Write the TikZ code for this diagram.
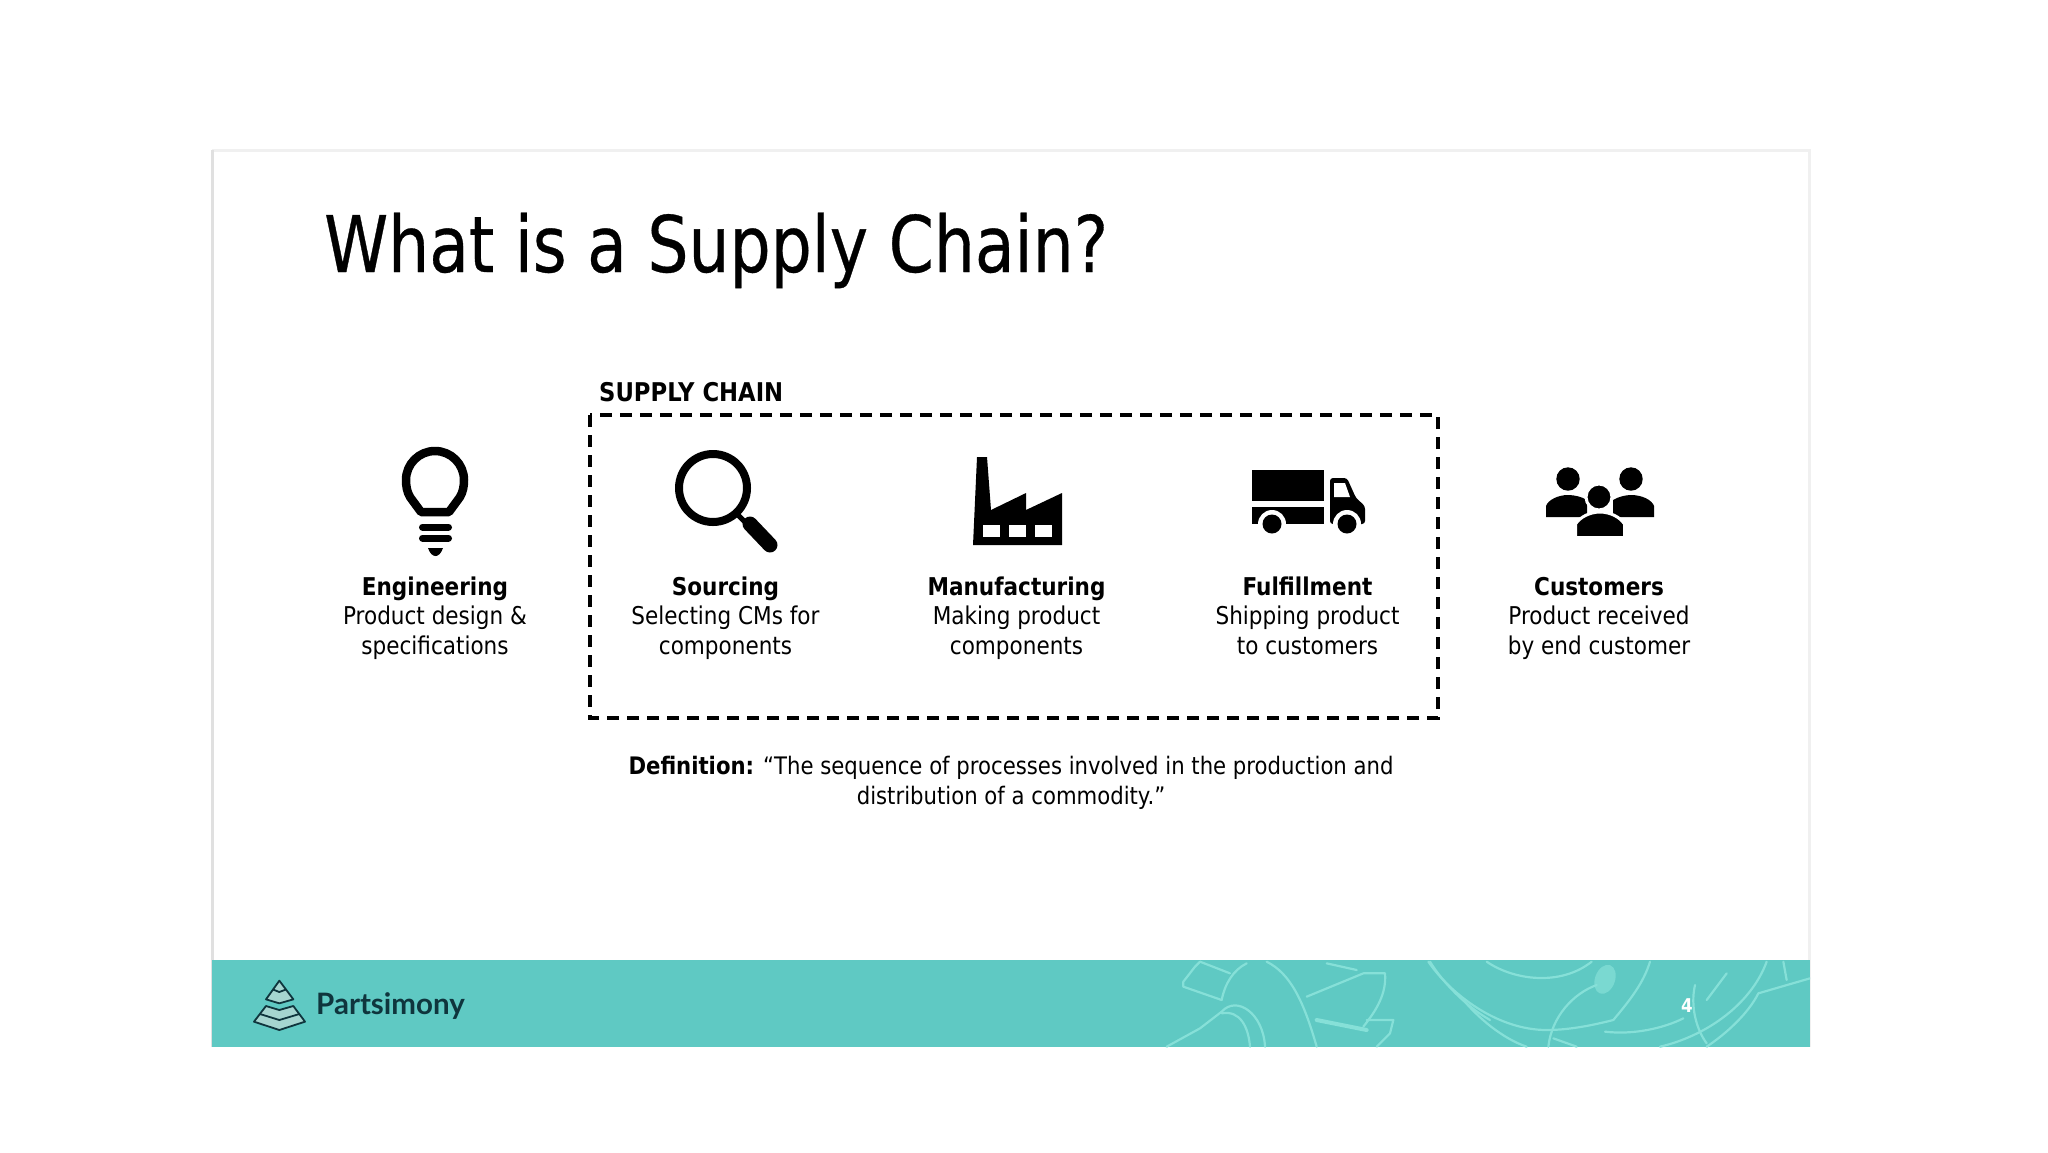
\documentclass[tikz,border=0pt]{standalone}
\usepackage{fontspec}
\setmainfont{DejaVu Sans}[FakeStretch=0.88]
\newfontfamily\titlefont{DejaVu Sans}[FakeStretch=0.83,FakeBold=0.4]
\newfontfamily\logofont{Lato}
\definecolor{bandcol}{HTML}{5FC9C3}
\definecolor{sketchcol}{HTML}{86E0D8}
\definecolor{logocol}{HTML}{0F353D}
\definecolor{logofill}{HTML}{A5D5D0}
\begin{document}
\begin{tikzpicture}[x=1pt, y=-1pt,
	bodytext/.style={align=center, text=black, font=\fontsize{24.5}{29.5}\selectfont},
	sketch/.style={draw=sketchcol, line width=2.2pt, line cap=round, line join=round},
	]
	\useasboundingbox (0,0) rectangle (2048,1152);
	\fill[white] (0,0) rectangle (2048,1152);

	% slide and footer band
	\draw[draw=black!6, line width=3pt] (212,150) -- (1809,150) -- (1809,1047);
	\draw[draw=black!12, line width=3pt] (212,150) -- (212,1047);
	\fill[bandcol] (212,960) rectangle (1810,1047);

	% sketch in the band, traced at 3x from its two halves
	\begin{scope}
	\clip (212,960) rectangle (1810,1047);
	\begin{scope}[shift={(1150,950)}, scale=1/3]
		\draw[sketch] (150,35) -- (135,50) -- (100,95) -- (100,110) -- (215,150);
		\draw[sketch] (150,35) -- (240,70);
		\draw[sketch] (215,150) .. controls (225,100) and (250,60) .. (290,40);
		\draw[sketch] (350,35) .. controls (420,70) and (460,150) .. (500,290);
		\draw[sketch] (215,185) .. controls (260,135) and (340,190) .. (345,290);
		\draw[sketch] (215,190) .. controls (270,180) and (295,230) .. (300,290);
		\draw[sketch] (50,290) -- (150,235) -- (215,185);
		\draw[sketch] (470,140) -- (640,70) -- (705,70) .. controls (710,130) and (680,180) .. (640,230);
		\draw[sketch, line width=4pt] (500,210) -- (650,240);
		\draw[sketch] (650,210) -- (730,210) -- (720,250) -- (680,290);
		\draw[sketch] (530,40) -- (620,60);
		\draw[sketch] (840,35) .. controls (880,100) and (950,170) .. (1020,210);
	\end{scope}
	\begin{scope}[shift={(1420,950)}, scale=1/3]
		\draw[sketch] (25,35) .. controls (90,130) and (230,240) .. (380,240) .. controls (450,240) and (520,225) .. (580,210) .. controls (630,150) and (670,100) .. (690,35);
		\draw[sketch] (130,150) .. controls (190,220) and (260,270) .. (320,290);
		\draw[sketch] (200,35) .. controls (280,90) and (420,110) .. (515,35);
		\fill[sketchcol, opacity=.7, rotate around={-20:(555,88)}] (555,88) ellipse (30 and 45);
		\draw[sketch] (530,105) .. controls (460,130) and (395,200) .. (385,290);
		\draw[sketch] (555,245) .. controls (640,255) and (730,235) .. (790,205);
		\draw[sketch] (825,105) .. controls (810,170) and (830,240) .. (860,280);
		\draw[sketch] (860,150) -- (920,70);
		\draw[sketch] (720,290) .. controls (850,260) and (990,170) .. (1040,35);
		\draw[sketch] (860,290) .. controls (920,250) and (985,190) .. (1015,130);
		\draw[sketch] (1015,130) -- (1170,85);
		\draw[sketch] (1090,35) -- (1100,90);
		\draw[sketch] (400,265) -- (470,290);
	\end{scope}
	\end{scope}

	% logo
	\begin{scope}[shift={(240,970)}, scale=1/3, draw=logocol, line width=1.8pt, line join=round]
		\filldraw[fill=logofill] (118,32) -- (78,88) -- (118,100) -- (160,88) -- cycle;
		\draw (98,58) -- (118,66) -- (139,58);
		\filldraw[fill=logofill] (78,108) -- (42,155) -- (118,180) -- (195,155) -- (160,108) -- (118,120) -- cycle;
		\draw (60,132) -- (118,150) -- (178,132);
	\end{scope}
	\node[anchor=west, inner sep=0pt, text=logocol, font=\logofont\bfseries\fontsize{29.5}{34}\selectfont] (logoname) at (316,1006.5) {Partsimony};
	\node[text=white, inner sep=0pt, font=\bfseries\fontsize{19}{22}\selectfont] (pagenum) at (1687,1006) {4};

	% title
	\node[anchor=base west, inner sep=0pt, font=\titlefont\fontsize{78}{90}\selectfont] (title) at (324,272) {What is a Supply Chain?};

	% dashed frame
	\draw[black, line width=3.4pt, dash pattern=on 12pt off 8pt] (590,415) rectangle (1438,718);
	\node[anchor=west, inner sep=0pt, font=\bfseries\fontsize{25.8}{28}\selectfont] (framelabel) at (599,392) {SUPPLY CHAIN};

	% captions
	\foreach \xc/\capname/\head/\linea/\lineb in {
		435/capeng/Engineering/Product design \&/specifications,
		725.5/capsrc/Sourcing/Selecting CMs for/components,
		1016.5/capman/Manufacturing/Making product/components,
		1307.5/capful/Fulfillment/Shipping product/to customers,
		1599/capcus/Customers/Product received/by end customer}{
		\node[bodytext, inner sep=0pt] (\capname) at (\xc,617.2) {\rule{0pt}{22pt}\textbf{\head}\\\linea\\\rule[-7pt]{0pt}{7pt}\lineb};
	}

	% definition
	\node[bodytext, inner sep=0pt, font=\fontsize{24.1}{29.5}\selectfont] (definition) at (1011,783) {\textbf{Definition:} “The sequence of processes involved in the production and\\distribution of a commodity.”};

	% bulb
	\draw[line width=8.5pt, line join=round] (421,512) -- (410,497) .. controls (407,492) and (406,486) .. (406,480) .. controls (406,464) and (419,451) .. (435,451) .. controls (451,451) and (464,464) .. (464,480) .. controls (464,486) and (463,492) .. (460,497) -- (449,512) -- cycle;
	\draw[line width=7pt, line cap=round] (422.5,527) -- (448.5,527);
	\draw[line width=7pt, line cap=round] (422.5,538) -- (448.5,538);
	\fill (428,548) -- (443,548) .. controls (441,554) and (438,556) .. (435.5,556) .. controls (433,556) and (430,554) .. (428,548) -- cycle;

	% magnifier
	\draw[line width=8pt] (713,488) circle (34);
	\draw[line width=5pt] (736,513) -- (750,527);
	\draw[line width=15pt, line cap=round] (750,524) -- (770,545);

	% factory
	\fill (973,545) -- (977,457) -- (987,457) -- (991,510) -- (1026,493) -- (1026,510) -- (1062,493) -- (1062,545) -- cycle;
	\foreach \xw in {983,1009,1035}
		\fill[white] (\xw,525) rectangle ++(16.5,12);

	% truck
	\fill (1252,470) rectangle (1324,501);
	\fill (1252,507) rectangle (1324,524);
	\fill[rounded corners=3pt] (1330,478) -- (1347,478) -- (1356,498) -- (1365,506) -- (1365,524) -- (1330,524) -- cycle;
	\fill[white] (1334,483) -- (1345,483) -- (1350,497) -- (1334,497) -- cycle;
	\foreach \xw in {1272,1347}{
		\fill[white] (\xw,524) circle (14);
		\fill (\xw,524) circle (9.5);
	}

	% customers
	\fill (1568,479) circle (11.7);
	\fill (1631,479) circle (11.7);
	\fill (1546,517) -- (1546,506) .. controls (1548,500) and (1558,495) .. (1568,495) .. controls (1575,495) and (1582,497) .. (1587,500) -- (1587,517) -- cycle;
	\fill (1654,517) -- (1654,506) .. controls (1652,500) and (1642,495) .. (1631,495) .. controls (1625,495) and (1618,497) .. (1613,500) -- (1613,517) -- cycle;
	\filldraw[draw=white, line width=3pt] (1599,497) circle (13);
	\filldraw[draw=white, line width=3pt] (1575.5,537.5) -- (1575.5,524) .. controls (1580,517) and (1590,512) .. (1600,512) .. controls (1610,512) and (1620,517) .. (1624.5,524) -- (1624.5,537.5) -- cycle;
\end{tikzpicture}
\end{document}
